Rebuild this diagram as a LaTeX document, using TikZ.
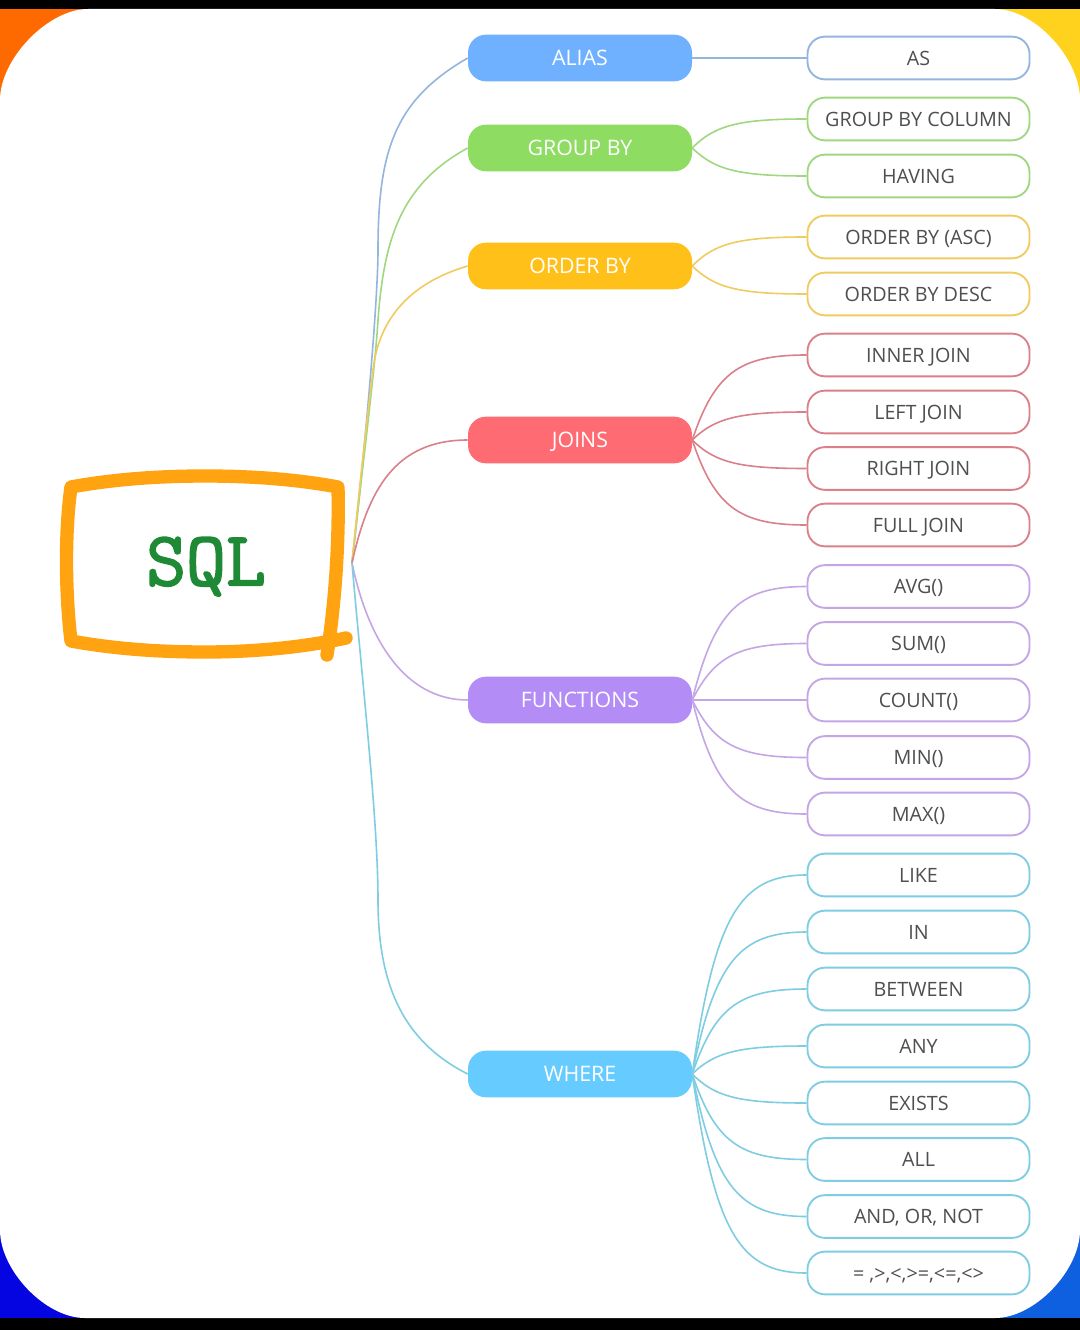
\documentclass[tikz,border=0pt]{standalone}
\usepackage{fontspec}
\setmainfont{Open Sans}
\newfontfamily\sqlfont[FakeBold=2.2]{Latin Modern Mono}
\usetikzlibrary{calc}
\definecolor{cAlias}{HTML}{6FB1FF}\definecolor{lAlias}{HTML}{93B5DE}
\definecolor{cGroup}{HTML}{8FDC62}\definecolor{lGroup}{HTML}{A0D880}
\definecolor{cOrder}{HTML}{FFC01A}\definecolor{lOrder}{HTML}{F0CB60}
\definecolor{cJoins}{HTML}{FF6B73}\definecolor{lJoins}{HTML}{D9808A}
\definecolor{cFunc}{HTML}{B48CF6}\definecolor{lFunc}{HTML}{C4A6E6}
\definecolor{cWhere}{HTML}{66CCFF}\definecolor{lWhere}{HTML}{7FCDE2}
\definecolor{frameC}{HTML}{FFA311}\definecolor{sqlC}{HTML}{1E8A35}
\definecolor{leafText}{HTML}{4F4F4F}
\tikzset{
  branch/.style={rounded corners=13.5pt,fill=#1,minimum width=168pt,minimum height=35pt,
    inner sep=0pt,text=white,text height=11.4pt,text depth=0pt,font=\fontsize{16}{18}\selectfont},
  leaf/.style={rounded corners=13pt,draw=#1,line width=1.4pt,fill=white,minimum width=166.5pt,minimum height=32pt,
    inner sep=0pt,text=leafText,text height=10.6pt,text depth=0pt,font=\fontsize{14.8}{18}\selectfont},
  wire/.style={line width=1.2pt,draw=#1},
}
\newcommand{\fanwire}[3]{\draw[wire=#1] let \p1=(#2.east), \p2=(#3.west) in
  (#2.east) .. controls (\x1+17pt,{\y1+0.8*(\y2-\y1)}) and (\x1+36pt,\y2) .. (#3.west);}
\begin{document}
\begin{tikzpicture}[x=0.75pt,y=-0.75pt]
\useasboundingbox (0,0) rectangle (1080,1330);
% page
\fill[black] (0,0) rectangle (1080,1330);
\fill[color={rgb,255:red,255;green,106;blue,0}] (0,9) rectangle (540,660);
\fill[color={rgb,255:red,255;green,210;blue,30}] (540,9) rectangle (1080,660);
\fill[color={rgb,255:red,5;green,5;blue,225}] (0,660) rectangle (540,1318);
\fill[color={rgb,255:red,15;green,95;blue,225}] (540,660) rectangle (1080,1318);
\fill[white] (0,100) .. controls (0,59) and (48,9) .. (88,9) -- (995,9)
  .. controls (1035,9) and (1080,59) .. (1080,100) -- (1080,1230)
  .. controls (1080,1270) and (1035,1318) .. (995,1318) -- (85,1318)
  .. controls (45,1318) and (0,1270) .. (0,1230) -- cycle;
% branch nodes
\node[branch=cAlias] (alias) at (580,58) {ALIAS};
\node[branch=cGroup] (group) at (580,148) {GROUP BY};
\node[branch=cOrder] (order) at (580,266) {ORDER BY};
\node[branch=cJoins] (joins) at (580,440) {JOINS};
\node[branch=cFunc] (func) at (580,700) {FUNCTIONS};
\node[branch=cWhere] (where) at (580,1074) {WHERE};
% leaves
\node[leaf=lAlias] (as) at (918.5,58) {AS};
\node[leaf=lGroup] (gbc) at (918.5,119) {GROUP BY COLUMN};
\node[leaf=lGroup] (hav) at (918.5,176) {HAVING};
\node[leaf=lOrder] (asc) at (918.5,237) {ORDER BY (ASC)};
\node[leaf=lOrder] (desc) at (918.5,294) {ORDER BY DESC};
\node[leaf=lJoins] (inner) at (918.5,355) {INNER JOIN};
\node[leaf=lJoins] (left) at (918.5,412) {LEFT JOIN};
\node[leaf=lJoins] (right) at (918.5,468.5) {RIGHT JOIN};
\node[leaf=lJoins] (full) at (918.5,525) {FULL JOIN};
\node[leaf=lFunc] (avg) at (918.5,586.5) {AVG()};
\node[leaf=lFunc] (sum) at (918.5,643.5) {SUM()};
\node[leaf=lFunc] (count) at (918.5,700) {COUNT()};
\node[leaf=lFunc] (min) at (918.5,757.5) {MIN()};
\node[leaf=lFunc] (max) at (918.5,814) {MAX()};
\node[leaf=lWhere] (like) at (918.5,875) {LIKE};
\node[leaf=lWhere] (in) at (918.5,932) {IN};
\node[leaf=lWhere] (btw) at (918.5,989) {BETWEEN};
\node[leaf=lWhere] (any) at (918.5,1046) {ANY};
\node[leaf=lWhere] (exi) at (918.5,1103) {EXISTS};
\node[leaf=lWhere] (all) at (918.5,1159.5) {ALL};
\node[leaf=lWhere] (aon) at (918.5,1216.5) {AND, OR, NOT};
\node[leaf=lWhere] (ops) at (918.5,1273) {= ,>,<,>=,<=,<>};
% SQL frame
\draw[frameC,line width=10pt,line cap=round,line join=round]
  (327,655) .. controls (337,590) and (339,530) .. (338,487)
  .. controls (295,479) and (250,476) .. (205,476)
  .. controls (160,476) and (115,479) .. (71,487)
  .. controls (65,530) and (65,590) .. (71,641)
  .. controls (115,649) and (160,652) .. (205,652)
  .. controls (250,652) and (300,648) .. (346,638);
\node[text=sqlC,font=\sqlfont\fontsize{58}{58}\selectfont,inner sep=0pt,text height=44pt,text depth=0pt] (sql) at (206,556) {SQL};
\coordinate (root) at (352,563);
% root wires
\draw[wire=lAlias] (root) .. controls (365,450) and (378,300) .. (378,250)
  .. controls (378,150) and (395,100) .. (alias.west);
\draw[wire=lGroup] (root) .. controls (362,470) and (375,370) .. (378,320)
  .. controls (384,240) and (400,185) .. (group.west);
\draw[wire=lOrder] (root) .. controls (360,480) and (367,420) .. (373,370)
  .. controls (380,310) and (420,280) .. (order.west);
\draw[wire=lJoins] (root) .. controls (368,490) and (395,440) .. (joins.west);
\draw[wire=lFunc] (root) .. controls (368,640) and (405,700) .. (func.west);
\draw[wire=lWhere] (root) .. controls (362,680) and (378,820) .. (378,900)
  .. controls (378,980) and (400,1040) .. (where.west);
% fans
\fanwire{lAlias}{alias}{as}
\fanwire{lGroup}{group}{gbc}
\fanwire{lGroup}{group}{hav}
\fanwire{lOrder}{order}{asc}
\fanwire{lOrder}{order}{desc}
\fanwire{lJoins}{joins}{inner}
\fanwire{lJoins}{joins}{left}
\fanwire{lJoins}{joins}{right}
\fanwire{lJoins}{joins}{full}
\fanwire{lFunc}{func}{avg}
\fanwire{lFunc}{func}{sum}
\fanwire{lFunc}{func}{count}
\fanwire{lFunc}{func}{min}
\fanwire{lFunc}{func}{max}
\fanwire{lWhere}{where}{like}
\fanwire{lWhere}{where}{in}
\fanwire{lWhere}{where}{btw}
\fanwire{lWhere}{where}{any}
\fanwire{lWhere}{where}{exi}
\fanwire{lWhere}{where}{all}
\fanwire{lWhere}{where}{aon}
\fanwire{lWhere}{where}{ops}
\end{tikzpicture}
\end{document}
